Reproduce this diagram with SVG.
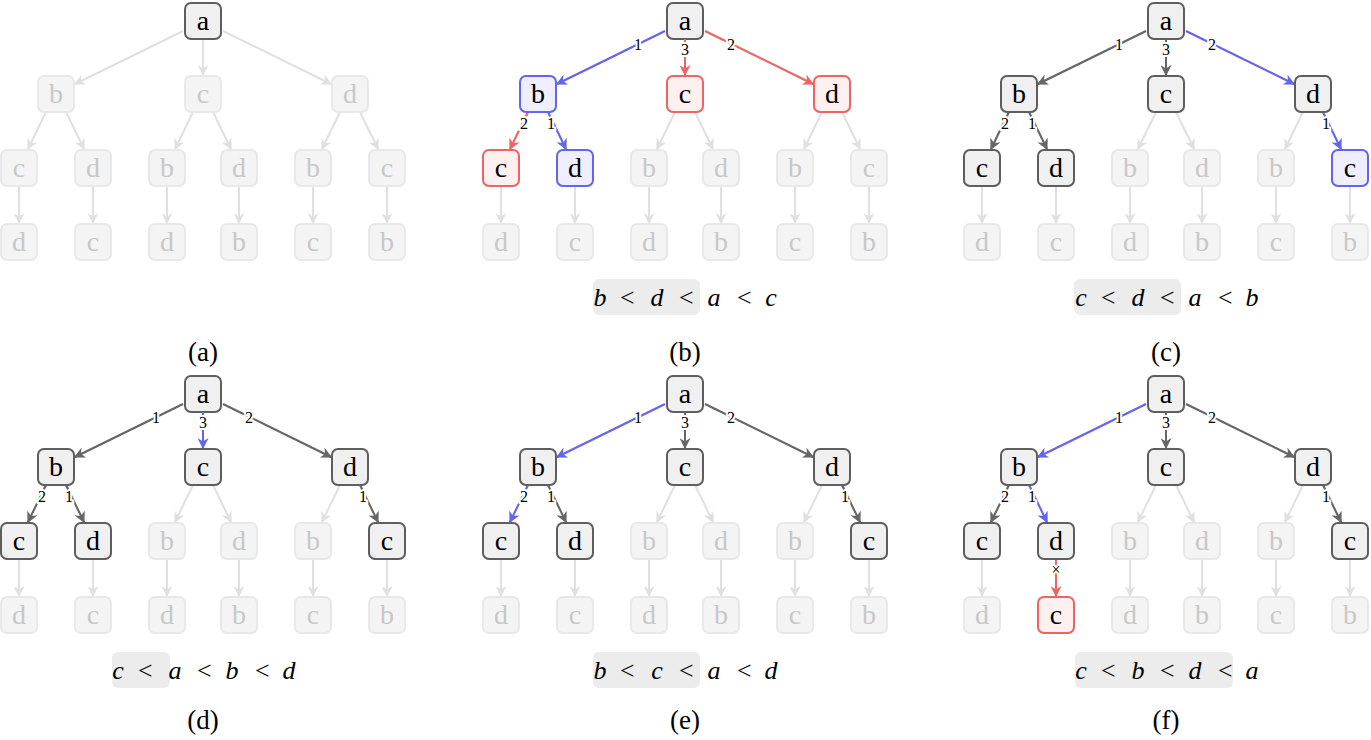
<svg xmlns="http://www.w3.org/2000/svg" xmlns:xlink="http://www.w3.org/1999/xlink" width="1371" height="740" viewBox="0 0 1371 740">
<style>
.n{fill:#f0f0f0;stroke:#5e5e5e;stroke-width:2}
.nb{fill:#eeeeff;stroke:#6464ee;stroke-width:2}
.nr{fill:#fff0f0;stroke:#ee6464;stroke-width:2}
.f{fill:#f4f4f4;stroke:#e8e8e8;stroke-width:2}
.t{font-family:"Liberation Serif",serif;font-size:28px;text-anchor:middle;fill:#000}
.ft{font-family:"Liberation Serif",serif;font-size:28px;text-anchor:middle;fill:#c8c8c8}
.e{stroke:#666;stroke-width:2;fill:none;marker-end:url(#mg)}
.eb{stroke:#6464ee;stroke-width:2;fill:none;marker-end:url(#mb)}
.er{stroke:#ee6464;stroke-width:2;fill:none;marker-end:url(#mr)}
.ef{stroke:#e0e0e0;stroke-width:2;fill:none;marker-end:url(#mf)}
.l{font-family:"Liberation Serif",serif;font-size:16px;text-anchor:middle;fill:#000;stroke:#fff;stroke-width:4;paint-order:stroke}
.eq{font-family:"Liberation Serif",serif;font-size:26px;font-style:italic;text-anchor:middle;fill:#000}
.hb{fill:#ececec}
.cap{font-family:"Liberation Serif",serif;font-size:27px;text-anchor:middle;fill:#000}
</style>
<defs>
<marker id="mg" viewBox="0 0 10 10" refX="9" refY="5" markerWidth="11" markerHeight="11" markerUnits="userSpaceOnUse" orient="auto"><path d="M0,0 L10,5 L0,10 L3,5 z" fill="#666"/></marker>
<marker id="mb" viewBox="0 0 10 10" refX="9" refY="5" markerWidth="11" markerHeight="11" markerUnits="userSpaceOnUse" orient="auto"><path d="M0,0 L10,5 L0,10 L3,5 z" fill="#6464ee"/></marker>
<marker id="mr" viewBox="0 0 10 10" refX="9" refY="5" markerWidth="11" markerHeight="11" markerUnits="userSpaceOnUse" orient="auto"><path d="M0,0 L10,5 L0,10 L3,5 z" fill="#ee6464"/></marker>
<marker id="mf" viewBox="0 0 10 10" refX="9" refY="5" markerWidth="11" markerHeight="11" markerUnits="userSpaceOnUse" orient="auto"><path d="M0,0 L10,5 L0,10 L3,5 z" fill="#e0e0e0"/></marker>
<g id="bg">
<g class="connectors">
<line class="ef" x1="-20" y1="31" x2="-128" y2="84"/>
<line class="ef" x1="0" y1="39" x2="0" y2="75"/>
<line class="ef" x1="20" y1="31" x2="128" y2="84"/>
<line class="ef" x1="-157" y1="112" x2="-175" y2="149"/>
<line class="ef" x1="-137" y1="112" x2="-119" y2="149"/>
<line class="ef" x1="-10" y1="112" x2="-28" y2="149"/>
<line class="ef" x1="10" y1="112" x2="28" y2="149"/>
<line class="ef" x1="137" y1="112" x2="119" y2="149"/>
<line class="ef" x1="157" y1="112" x2="175" y2="149"/>
<line class="ef" x1="-184" y1="187" x2="-184" y2="223"/>
<line class="ef" x1="-110" y1="187" x2="-110" y2="223"/>
<line class="ef" x1="-36" y1="187" x2="-36" y2="223"/>
<line class="ef" x1="36" y1="187" x2="36" y2="223"/>
<line class="ef" x1="110" y1="187" x2="110" y2="223"/>
<line class="ef" x1="184" y1="187" x2="184" y2="223"/>
</g>
<rect class="f" x="-165" y="76" width="36" height="36" rx="6"/><text class="ft" x="-147" y="103">b</text>
<rect class="f" x="-18" y="76" width="36" height="36" rx="6"/><text class="ft" x="0" y="103">c</text>
<rect class="f" x="129" y="76" width="36" height="36" rx="6"/><text class="ft" x="147" y="103">d</text>
<rect class="f" x="-202" y="150" width="36" height="36" rx="6"/><text class="ft" x="-184" y="177">c</text>
<rect class="f" x="-128" y="150" width="36" height="36" rx="6"/><text class="ft" x="-110" y="177">d</text>
<rect class="f" x="-54" y="150" width="36" height="36" rx="6"/><text class="ft" x="-36" y="177">b</text>
<rect class="f" x="18" y="150" width="36" height="36" rx="6"/><text class="ft" x="36" y="177">d</text>
<rect class="f" x="92" y="150" width="36" height="36" rx="6"/><text class="ft" x="110" y="177">b</text>
<rect class="f" x="166" y="150" width="36" height="36" rx="6"/><text class="ft" x="184" y="177">c</text>
<rect class="f" x="-202" y="224" width="36" height="36" rx="6"/><text class="ft" x="-184" y="251">d</text>
<rect class="f" x="-128" y="224" width="36" height="36" rx="6"/><text class="ft" x="-110" y="251">c</text>
<rect class="f" x="-54" y="224" width="36" height="36" rx="6"/><text class="ft" x="-36" y="251">d</text>
<rect class="f" x="18" y="224" width="36" height="36" rx="6"/><text class="ft" x="36" y="251">b</text>
<rect class="f" x="92" y="224" width="36" height="36" rx="6"/><text class="ft" x="110" y="251">c</text>
<rect class="f" x="166" y="224" width="36" height="36" rx="6"/><text class="ft" x="184" y="251">b</text>
<g id="rootA"><rect class="n" x="-18" y="3" width="36" height="36" rx="6"/><text class="t" x="0" y="30">a</text></g>
</g>
</defs>

<g id="panel-a" transform="translate(203,0)">
<use xlink:href="#bg"/>
<text class="cap" x="0" y="361">(a)</text>
</g>

<g id="panel-b" transform="translate(685,0)">
<use xlink:href="#bg"/>
<g class="connectors">
<line class="eb" x1="-20" y1="31" x2="-128" y2="84"/>
<line class="er" x1="0" y1="39" x2="0" y2="75"/>
<line class="er" x1="20" y1="31" x2="128" y2="84"/>
<line class="er" x1="-157" y1="112" x2="-175" y2="149"/>
<line class="eb" x1="-137" y1="112" x2="-119" y2="149"/>
<text class="l" x="-47" y="50">1</text><text class="l" x="0" y="55">3</text><text class="l" x="46" y="50">2</text>
<text class="l" x="-161" y="129">2</text><text class="l" x="-134" y="129">1</text>
</g>
<g id="b-b"><rect class="nb" x="-165" y="76" width="36" height="36" rx="6"/><text class="t" x="-147" y="103">b</text></g>
<g id="b-c"><rect class="nr" x="-18" y="76" width="36" height="36" rx="6"/><text class="t" x="0" y="103">c</text></g>
<g id="b-d"><rect class="nr" x="129" y="76" width="36" height="36" rx="6"/><text class="t" x="147" y="103">d</text></g>
<g id="b-bc"><rect class="nr" x="-202" y="150" width="36" height="36" rx="6"/><text class="t" x="-184" y="177">c</text></g>
<g id="b-bd"><rect class="nb" x="-128" y="150" width="36" height="36" rx="6"/><text class="t" x="-110" y="177">d</text></g>
<rect class="hb" x="-92" y="279" width="107" height="36" rx="6"/>
<text class="eq" x="-85" y="306">b</text><text class="eq" x="-58" y="306">&lt;</text><text class="eq" x="-28" y="306">d</text><text class="eq" x="1" y="306">&lt;</text><text class="eq" x="29" y="306">a</text><text class="eq" x="59" y="306">&lt;</text><text class="eq" x="86" y="306">c</text>
<text class="cap" x="0" y="361">(b)</text>
</g>

<g id="panel-c" transform="translate(1166,0)">
<use xlink:href="#bg"/>
<g class="connectors">
<line class="e" x1="-20" y1="31" x2="-128" y2="84"/>
<line class="e" x1="0" y1="39" x2="0" y2="75"/>
<line class="eb" x1="20" y1="31" x2="128" y2="84"/>
<line class="e" x1="-157" y1="112" x2="-175" y2="149"/>
<line class="e" x1="-137" y1="112" x2="-119" y2="149"/>
<line class="eb" x1="157" y1="112" x2="175" y2="149"/>
<text class="l" x="-47" y="50">1</text><text class="l" x="0" y="55">3</text><text class="l" x="46" y="50">2</text>
<text class="l" x="-161" y="129">2</text><text class="l" x="-134" y="129">1</text><text class="l" x="160" y="129">1</text>
</g>
<g id="c-b"><rect class="n" x="-165" y="76" width="36" height="36" rx="6"/><text class="t" x="-147" y="103">b</text></g>
<g id="c-c"><rect class="n" x="-18" y="76" width="36" height="36" rx="6"/><text class="t" x="0" y="103">c</text></g>
<g id="c-d"><rect class="n" x="129" y="76" width="36" height="36" rx="6"/><text class="t" x="147" y="103">d</text></g>
<g id="c-bc"><rect class="n" x="-202" y="150" width="36" height="36" rx="6"/><text class="t" x="-184" y="177">c</text></g>
<g id="c-bd"><rect class="n" x="-128" y="150" width="36" height="36" rx="6"/><text class="t" x="-110" y="177">d</text></g>
<g id="c-dc"><rect class="nb" x="166" y="150" width="36" height="36" rx="6"/><text class="t" x="184" y="177">c</text></g>
<rect class="hb" x="-92" y="279" width="107" height="36" rx="6"/>
<text class="eq" x="-85" y="306">c</text><text class="eq" x="-58" y="306">&lt;</text><text class="eq" x="-28" y="306">d</text><text class="eq" x="1" y="306">&lt;</text><text class="eq" x="29" y="306">a</text><text class="eq" x="59" y="306">&lt;</text><text class="eq" x="86" y="306">b</text>
<text class="cap" x="0" y="361">(c)</text>
</g>

<g id="panel-d" transform="translate(203,373)">
<use xlink:href="#bg"/>
<g class="connectors">
<line class="e" x1="-20" y1="31" x2="-128" y2="84"/>
<line class="eb" x1="0" y1="39" x2="0" y2="75"/>
<line class="e" x1="20" y1="31" x2="128" y2="84"/>
<line class="e" x1="-157" y1="112" x2="-175" y2="149"/>
<line class="e" x1="-137" y1="112" x2="-119" y2="149"/>
<line class="e" x1="157" y1="112" x2="175" y2="149"/>
<text class="l" x="-47" y="50">1</text><text class="l" x="0" y="55">3</text><text class="l" x="46" y="50">2</text>
<text class="l" x="-161" y="129">2</text><text class="l" x="-134" y="129">1</text><text class="l" x="160" y="129">1</text>
</g>
<g id="d-b"><rect class="n" x="-165" y="76" width="36" height="36" rx="6"/><text class="t" x="-147" y="103">b</text></g>
<g id="d-c"><rect class="n" x="-18" y="76" width="36" height="36" rx="6"/><text class="t" x="0" y="103">c</text></g>
<g id="d-d"><rect class="n" x="129" y="76" width="36" height="36" rx="6"/><text class="t" x="147" y="103">d</text></g>
<g id="d-bc"><rect class="n" x="-202" y="150" width="36" height="36" rx="6"/><text class="t" x="-184" y="177">c</text></g>
<g id="d-bd"><rect class="n" x="-128" y="150" width="36" height="36" rx="6"/><text class="t" x="-110" y="177">d</text></g>
<g id="d-dc"><rect class="n" x="166" y="150" width="36" height="36" rx="6"/><text class="t" x="184" y="177">c</text></g>
<rect class="hb" x="-91" y="279" width="58" height="36" rx="6"/>
<text class="eq" x="-85" y="306">c</text><text class="eq" x="-58" y="306">&lt;</text><text class="eq" x="-28" y="306">a</text><text class="eq" x="1" y="306">&lt;</text><text class="eq" x="29" y="306">b</text><text class="eq" x="59" y="306">&lt;</text><text class="eq" x="86" y="306">d</text>
<text class="cap" x="0" y="356">(d)</text>
</g>

<g id="panel-e" transform="translate(685,373)">
<use xlink:href="#bg"/>
<g class="connectors">
<line class="eb" x1="-20" y1="31" x2="-128" y2="84"/>
<line class="e" x1="0" y1="39" x2="0" y2="75"/>
<line class="e" x1="20" y1="31" x2="128" y2="84"/>
<line class="eb" x1="-157" y1="112" x2="-175" y2="149"/>
<line class="e" x1="-137" y1="112" x2="-119" y2="149"/>
<line class="e" x1="157" y1="112" x2="175" y2="149"/>
<text class="l" x="-47" y="50">1</text><text class="l" x="0" y="55">3</text><text class="l" x="46" y="50">2</text>
<text class="l" x="-161" y="129">2</text><text class="l" x="-134" y="129">1</text><text class="l" x="160" y="129">1</text>
</g>
<g id="e-b"><rect class="n" x="-165" y="76" width="36" height="36" rx="6"/><text class="t" x="-147" y="103">b</text></g>
<g id="e-c"><rect class="n" x="-18" y="76" width="36" height="36" rx="6"/><text class="t" x="0" y="103">c</text></g>
<g id="e-d"><rect class="n" x="129" y="76" width="36" height="36" rx="6"/><text class="t" x="147" y="103">d</text></g>
<g id="e-bc"><rect class="n" x="-202" y="150" width="36" height="36" rx="6"/><text class="t" x="-184" y="177">c</text></g>
<g id="e-bd"><rect class="n" x="-128" y="150" width="36" height="36" rx="6"/><text class="t" x="-110" y="177">d</text></g>
<g id="e-dc"><rect class="n" x="166" y="150" width="36" height="36" rx="6"/><text class="t" x="184" y="177">c</text></g>
<rect class="hb" x="-92" y="279" width="107" height="36" rx="6"/>
<text class="eq" x="-85" y="306">b</text><text class="eq" x="-58" y="306">&lt;</text><text class="eq" x="-28" y="306">c</text><text class="eq" x="1" y="306">&lt;</text><text class="eq" x="29" y="306">a</text><text class="eq" x="59" y="306">&lt;</text><text class="eq" x="86" y="306">d</text>
<text class="cap" x="0" y="356">(e)</text>
</g>

<g id="panel-f" transform="translate(1166,373)">
<use xlink:href="#bg"/>
<g class="connectors">
<line class="eb" x1="-20" y1="31" x2="-128" y2="84"/>
<line class="e" x1="0" y1="39" x2="0" y2="75"/>
<line class="e" x1="20" y1="31" x2="128" y2="84"/>
<line class="e" x1="-157" y1="112" x2="-175" y2="149"/>
<line class="eb" x1="-137" y1="112" x2="-119" y2="149"/>
<line class="e" x1="157" y1="112" x2="175" y2="149"/>
<line class="er" x1="-110" y1="187" x2="-110" y2="223"/>
<text class="l" x="-47" y="50">1</text><text class="l" x="0" y="55">3</text><text class="l" x="46" y="50">2</text>
<text class="l" x="-161" y="129">2</text><text class="l" x="-134" y="129">1</text><text class="l" x="160" y="129">1</text>
<text class="l" x="-110" y="202">×</text>
</g>
<g id="f-b"><rect class="n" x="-165" y="76" width="36" height="36" rx="6"/><text class="t" x="-147" y="103">b</text></g>
<g id="f-c"><rect class="n" x="-18" y="76" width="36" height="36" rx="6"/><text class="t" x="0" y="103">c</text></g>
<g id="f-d"><rect class="n" x="129" y="76" width="36" height="36" rx="6"/><text class="t" x="147" y="103">d</text></g>
<g id="f-bc"><rect class="n" x="-202" y="150" width="36" height="36" rx="6"/><text class="t" x="-184" y="177">c</text></g>
<g id="f-bd"><rect class="n" x="-128" y="150" width="36" height="36" rx="6"/><text class="t" x="-110" y="177">d</text></g>
<g id="f-dc"><rect class="n" x="166" y="150" width="36" height="36" rx="6"/><text class="t" x="184" y="177">c</text></g>
<g id="f-bdc"><rect class="nr" x="-128" y="224" width="36" height="36" rx="6"/><text class="t" x="-110" y="251">c</text></g>
<rect class="hb" x="-91" y="279" width="158" height="36" rx="6"/>
<text class="eq" x="-85" y="306">c</text><text class="eq" x="-58" y="306">&lt;</text><text class="eq" x="-28" y="306">b</text><text class="eq" x="1" y="306">&lt;</text><text class="eq" x="29" y="306">d</text><text class="eq" x="59" y="306">&lt;</text><text class="eq" x="86" y="306">a</text>
<text class="cap" x="0" y="356">(f)</text>
</g>
</svg>
